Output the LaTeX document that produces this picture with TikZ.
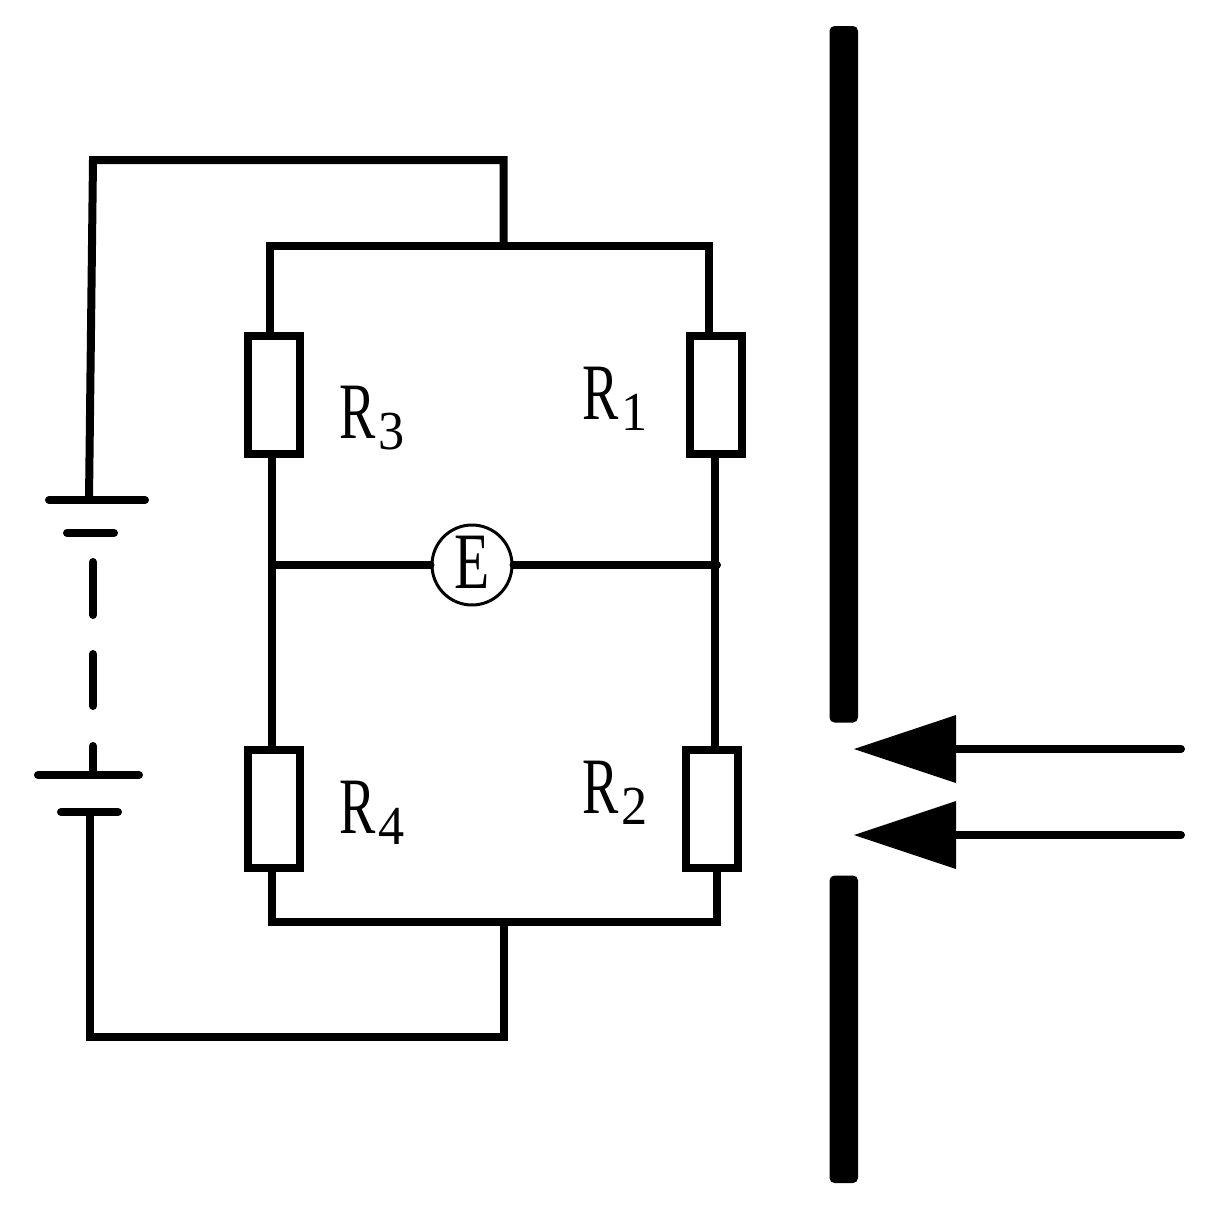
\documentclass[tikz,border=0pt]{standalone}
\usepackage{graphicx}
\usepackage{fontspec}
\setmainfont{Liberation Serif}
\usetikzlibrary{arrows.meta}
\newcommand{\RLabel}[1]{\scalebox{.68}[1]{\fontsize{80}{80}\selectfont R}\kern3pt\raisebox{-11pt}{\scalebox{.95}[1]{\fontsize{55}{55}\selectfont #1}}}
\tikzset{
  wire/.style={line width=8pt,line join=miter,line cap=round},
  plate/.style={line width=8pt,line cap=round},
  res/.style={draw,line width=8pt,rectangle,minimum width=52pt,minimum height=118pt,inner sep=0pt},
  lab/.style={anchor=base west,inner sep=0pt,outer sep=0pt},
  meter/.style={draw,circle,line width=3pt,minimum size=80pt,inner sep=0pt},
  bar/.style={fill=black,rounded corners=5pt,draw=none},
  beam/.style={line width=8pt,line cap=round,-{Triangle[length=102pt,width=68pt,line width=0pt,sharp]}}
}
\begin{document}
\begin{tikzpicture}[x=1pt,y=-1pt]
\useasboundingbox (0,0) rectangle (1216,1219);
% resistors
\node[res] (R3) at (273.5,395) {};
\node[res] (R1) at (715.5,395) {};
\node[res] (R4) at (273.5,809) {};
\node[res] (R2) at (711.5,809) {};
% meter
\node[meter] (E) at (472,565) {\raisebox{6pt}{\scalebox{.72}[1]{\fontsize{80}{80}\selectfont E}}};
% labels
\node[lab] (L3) at (339,438) {\RLabel{3}};
\node[lab] (L1) at (582,419) {\RLabel{1}};
\node[lab] (L4) at (339,833) {\RLabel{4}};
\node[lab] (L2) at (582,813) {\RLabel{2}};
% junctions
\coordinate (tl) at (270,245.5);
\coordinate (tm) at (503.5,245.5);
\coordinate (tr) at (709,245.5);
\coordinate (R3t) at (270,332);
\coordinate (R1t) at (709,332);
\coordinate (R3b) at (272,458);
\coordinate (R1b) at (715,458);
\coordinate (R4t) at (272,746);
\coordinate (R2t) at (715,746);
\coordinate (R4b) at (272,872);
\coordinate (R2b) at (717,872);
\coordinate (bl) at (272,922);
\coordinate (bm) at (503.5,922);
\coordinate (br) at (717,922);
\coordinate (ml) at (272,565);
\coordinate (mr) at (717,565);
\coordinate (c1) at (503.5,160);
\coordinate (c2) at (93,160);
\coordinate (c3) at (503.5,1036.5);
\coordinate (c4) at (90,1036.5);
% battery
\coordinate (p1a) at (49,500);
\coordinate (p1b) at (145,500);
\coordinate (p1m) at (89,500);
\coordinate (p2a) at (67,533);
\coordinate (p2b) at (114,533);
\coordinate (p3a) at (38,775);
\coordinate (p3b) at (139,775);
\coordinate (p4a) at (61,812);
\coordinate (p4b) at (118,812);
\coordinate (p4m) at (90,812);
\coordinate (d1a) at (93,562);
\coordinate (d1b) at (93,615);
\coordinate (d2a) at (93,654);
\coordinate (d2b) at (93,706);
\coordinate (d3a) at (93,746);
\coordinate (d3b) at (93,775);
% wiring
\draw[wire] (R3t) -- (tl) -- (tr) -- (R1t);
\draw[wire] (tm) -- (c1) -- (c2) -- (p1m);
\draw[wire] (R3b) -- (R4t);
\draw[wire] (R1b) -- (R2t);
\draw[wire] (R4b) -- (bl) -- (br) -- (R2b);
\draw[wire] (bm) -- (c3) -- (c4) -- (p4m);
\draw[wire] (ml) -- (E.west);
\draw[wire] (E.east) -- (mr);
% battery plates
\draw[plate] (p1a) -- (p1b);
\draw[plate] (p2a) -- (p2b);
\draw[plate] (p3a) -- (p3b);
\draw[plate] (p4a) -- (p4b);
\draw[plate] (d1a) -- (d1b);
\draw[plate] (d2a) -- (d2b);
\draw[plate] (d3a) -- (d3b);
% slit
\fill[bar] (829.5,26) rectangle (858,722.5);
\fill[bar] (829.5,875.5) rectangle (858,1183);
% beams
\coordinate (a1s) at (1181,749);
\coordinate (a1e) at (854,749);
\coordinate (a2s) at (1181,835);
\coordinate (a2e) at (854,835);
\draw[beam] (a1s) -- (a1e);
\draw[beam] (a2s) -- (a2e);
\end{tikzpicture}
\end{document}
